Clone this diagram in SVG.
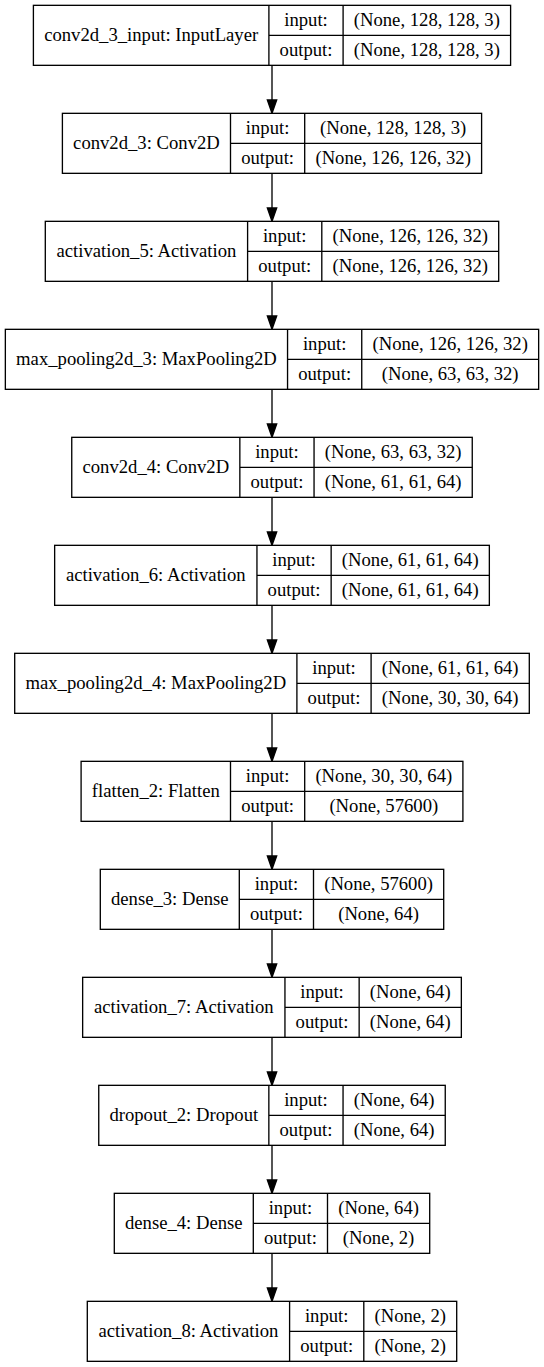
<svg xmlns="http://www.w3.org/2000/svg" width="544" height="1367" viewBox="0 0 544 1367">
<style>
.b{fill:#fff;stroke:#000;stroke-width:1.33}
.l{stroke:#000;stroke-width:1.33;fill:none}
text{font-family:"Liberation Serif","Times New Roman",serif;font-size:18.67px;fill:#000;text-anchor:middle}
.e{stroke:#000;stroke-width:1.33;fill:none}
</style>
<defs>
<marker id="ah" markerUnits="userSpaceOnUse" markerWidth="16" markerHeight="12" refX="1" refY="5.67" orient="auto" viewBox="0 0 16 12">
<path d="M1,1 L14.33,5.67 L1,10.33 z" fill="#000" stroke="#000" stroke-width="1.33"/>
</marker>
</defs>
<rect width="544" height="1367" fill="#fff"/>
<g id="connectors">
<line class="e" x1="272" y1="65.33" x2="272" y2="100" marker-end="url(#ah)"/>
<line class="e" x1="272" y1="173.33" x2="272" y2="208" marker-end="url(#ah)"/>
<line class="e" x1="272" y1="281.33" x2="272" y2="316" marker-end="url(#ah)"/>
<line class="e" x1="272" y1="389.33" x2="272" y2="424" marker-end="url(#ah)"/>
<line class="e" x1="272" y1="497.33" x2="272" y2="532" marker-end="url(#ah)"/>
<line class="e" x1="272" y1="605.33" x2="272" y2="640" marker-end="url(#ah)"/>
<line class="e" x1="272" y1="713.33" x2="272" y2="748" marker-end="url(#ah)"/>
<line class="e" x1="272" y1="821.33" x2="272" y2="856" marker-end="url(#ah)"/>
<line class="e" x1="272" y1="929.33" x2="272" y2="964" marker-end="url(#ah)"/>
<line class="e" x1="272" y1="1037.33" x2="272" y2="1072" marker-end="url(#ah)"/>
<line class="e" x1="272" y1="1145.33" x2="272" y2="1180" marker-end="url(#ah)"/>
<line class="e" x1="272" y1="1253.33" x2="272" y2="1288" marker-end="url(#ah)"/>
</g>
<g id="n1" transform="translate(0,5.33)">
<rect class="b" x="33.4" y="0" width="477.2" height="60"/>
<path class="l" d="M268.9,0V60M343.1,0V60M268.9,30H510.6"/>
<text x="151.15" y="36">conv2d_3_input: InputLayer</text>
<text x="306" y="21">input:</text><text x="306" y="51">output:</text>
<text x="426.85" y="21">(None, 128, 128, 3)</text><text x="426.85" y="51">(None, 128, 128, 3)</text>
</g>
<g id="n2" transform="translate(0,113.33)">
<rect class="b" x="62.4" y="0" width="419.2" height="60"/>
<path class="l" d="M230.5,0V60M304.7,0V60M230.5,30H481.6"/>
<text x="146.45" y="36">conv2d_3: Conv2D</text>
<text x="267.6" y="21">input:</text><text x="267.6" y="51">output:</text>
<text x="393.15" y="21">(None, 128, 128, 3)</text><text x="393.15" y="51">(None, 126, 126, 32)</text>
</g>
<g id="n3" transform="translate(0,221.33)">
<rect class="b" x="45.3" y="0" width="453.4" height="60"/>
<path class="l" d="M247.6,0V60M321.8,0V60M247.6,30H498.7"/>
<text x="146.45" y="36">activation_5: Activation</text>
<text x="284.7" y="21">input:</text><text x="284.7" y="51">output:</text>
<text x="410.25" y="21">(None, 126, 126, 32)</text><text x="410.25" y="51">(None, 126, 126, 32)</text>
</g>
<g id="n4" transform="translate(0,329.33)">
<rect class="b" x="5.35" y="0" width="533.3" height="60"/>
<path class="l" d="M287.55,0V60M361.75,0V60M287.55,30H538.65"/>
<text x="146.45" y="36">max_pooling2d_3: MaxPooling2D</text>
<text x="324.65" y="21">input:</text><text x="324.65" y="51">output:</text>
<text x="450.2" y="21">(None, 126, 126, 32)</text><text x="450.2" y="51">(None, 63, 63, 32)</text>
</g>
<g id="n5" transform="translate(0,437.33)">
<rect class="b" x="71.75" y="0" width="400.5" height="60"/>
<path class="l" d="M239.85,0V60M314.05,0V60M239.85,30H472.25"/>
<text x="155.8" y="36">conv2d_4: Conv2D</text>
<text x="276.95" y="21">input:</text><text x="276.95" y="51">output:</text>
<text x="393.15" y="21">(None, 63, 63, 32)</text><text x="393.15" y="51">(None, 61, 61, 64)</text>
</g>
<g id="n6" transform="translate(0,545.33)">
<rect class="b" x="54.65" y="0" width="434.7" height="60"/>
<path class="l" d="M256.95,0V60M331.15,0V60M256.95,30H489.35"/>
<text x="155.8" y="36">activation_6: Activation</text>
<text x="294.05" y="21">input:</text><text x="294.05" y="51">output:</text>
<text x="410.25" y="21">(None, 61, 61, 64)</text><text x="410.25" y="51">(None, 61, 61, 64)</text>
</g>
<g id="n7" transform="translate(0,653.33)">
<rect class="b" x="14.7" y="0" width="514.6" height="60"/>
<path class="l" d="M296.9,0V60M371.1,0V60M296.9,30H529.3"/>
<text x="155.8" y="36">max_pooling2d_4: MaxPooling2D</text>
<text x="334" y="21">input:</text><text x="334" y="51">output:</text>
<text x="450.2" y="21">(None, 61, 61, 64)</text><text x="450.2" y="51">(None, 30, 30, 64)</text>
</g>
<g id="n8" transform="translate(0,761.33)">
<rect class="b" x="81.1" y="0" width="381.8" height="60"/>
<path class="l" d="M230.5,0V60M304.7,0V60M230.5,30H462.9"/>
<text x="155.8" y="36">flatten_2: Flatten</text>
<text x="267.6" y="21">input:</text><text x="267.6" y="51">output:</text>
<text x="383.8" y="21">(None, 30, 30, 64)</text><text x="383.8" y="51">(None, 57600)</text>
</g>
<g id="n9" transform="translate(0,869.33)">
<rect class="b" x="100.3" y="0" width="343.4" height="60"/>
<path class="l" d="M239.3,0V60M313.5,0V60M239.3,30H443.7"/>
<text x="169.8" y="36">dense_3: Dense</text>
<text x="276.4" y="21">input:</text><text x="276.4" y="51">output:</text>
<text x="378.6" y="21">(None, 57600)</text><text x="378.6" y="51">(None, 64)</text>
</g>
<g id="n10" transform="translate(0,977.33)">
<rect class="b" x="82.65" y="0" width="378.7" height="60"/>
<path class="l" d="M284.95,0V60M359.15,0V60M284.95,30H461.35"/>
<text x="183.8" y="36">activation_7: Activation</text>
<text x="322.05" y="21">input:</text><text x="322.05" y="51">output:</text>
<text x="410.25" y="21">(None, 64)</text><text x="410.25" y="51">(None, 64)</text>
</g>
<g id="n11" transform="translate(0,1085.33)">
<rect class="b" x="98.75" y="0" width="346.5" height="60"/>
<path class="l" d="M268.85,0V60M343.05,0V60M268.85,30H445.25"/>
<text x="183.8" y="36">dropout_2: Dropout</text>
<text x="305.95" y="21">input:</text><text x="305.95" y="51">output:</text>
<text x="394.15" y="21">(None, 64)</text><text x="394.15" y="51">(None, 64)</text>
</g>
<g id="n12" transform="translate(0,1193.33)">
<rect class="b" x="114.3" y="0" width="315.4" height="60"/>
<path class="l" d="M253.3,0V60M327.5,0V60M253.3,30H429.7"/>
<text x="183.8" y="36">dense_4: Dense</text>
<text x="290.4" y="21">input:</text><text x="290.4" y="51">output:</text>
<text x="378.6" y="21">(None, 64)</text><text x="378.6" y="51">(None, 2)</text>
</g>
<g id="n13" transform="translate(0,1301.33)">
<rect class="b" x="87.3" y="0" width="369.4" height="60"/>
<path class="l" d="M289.6,0V60M363.8,0V60M289.6,30H456.7"/>
<text x="188.45" y="36">activation_8: Activation</text>
<text x="326.7" y="21">input:</text><text x="326.7" y="51">output:</text>
<text x="410.25" y="21">(None, 2)</text><text x="410.25" y="51">(None, 2)</text>
</g>
</svg>
